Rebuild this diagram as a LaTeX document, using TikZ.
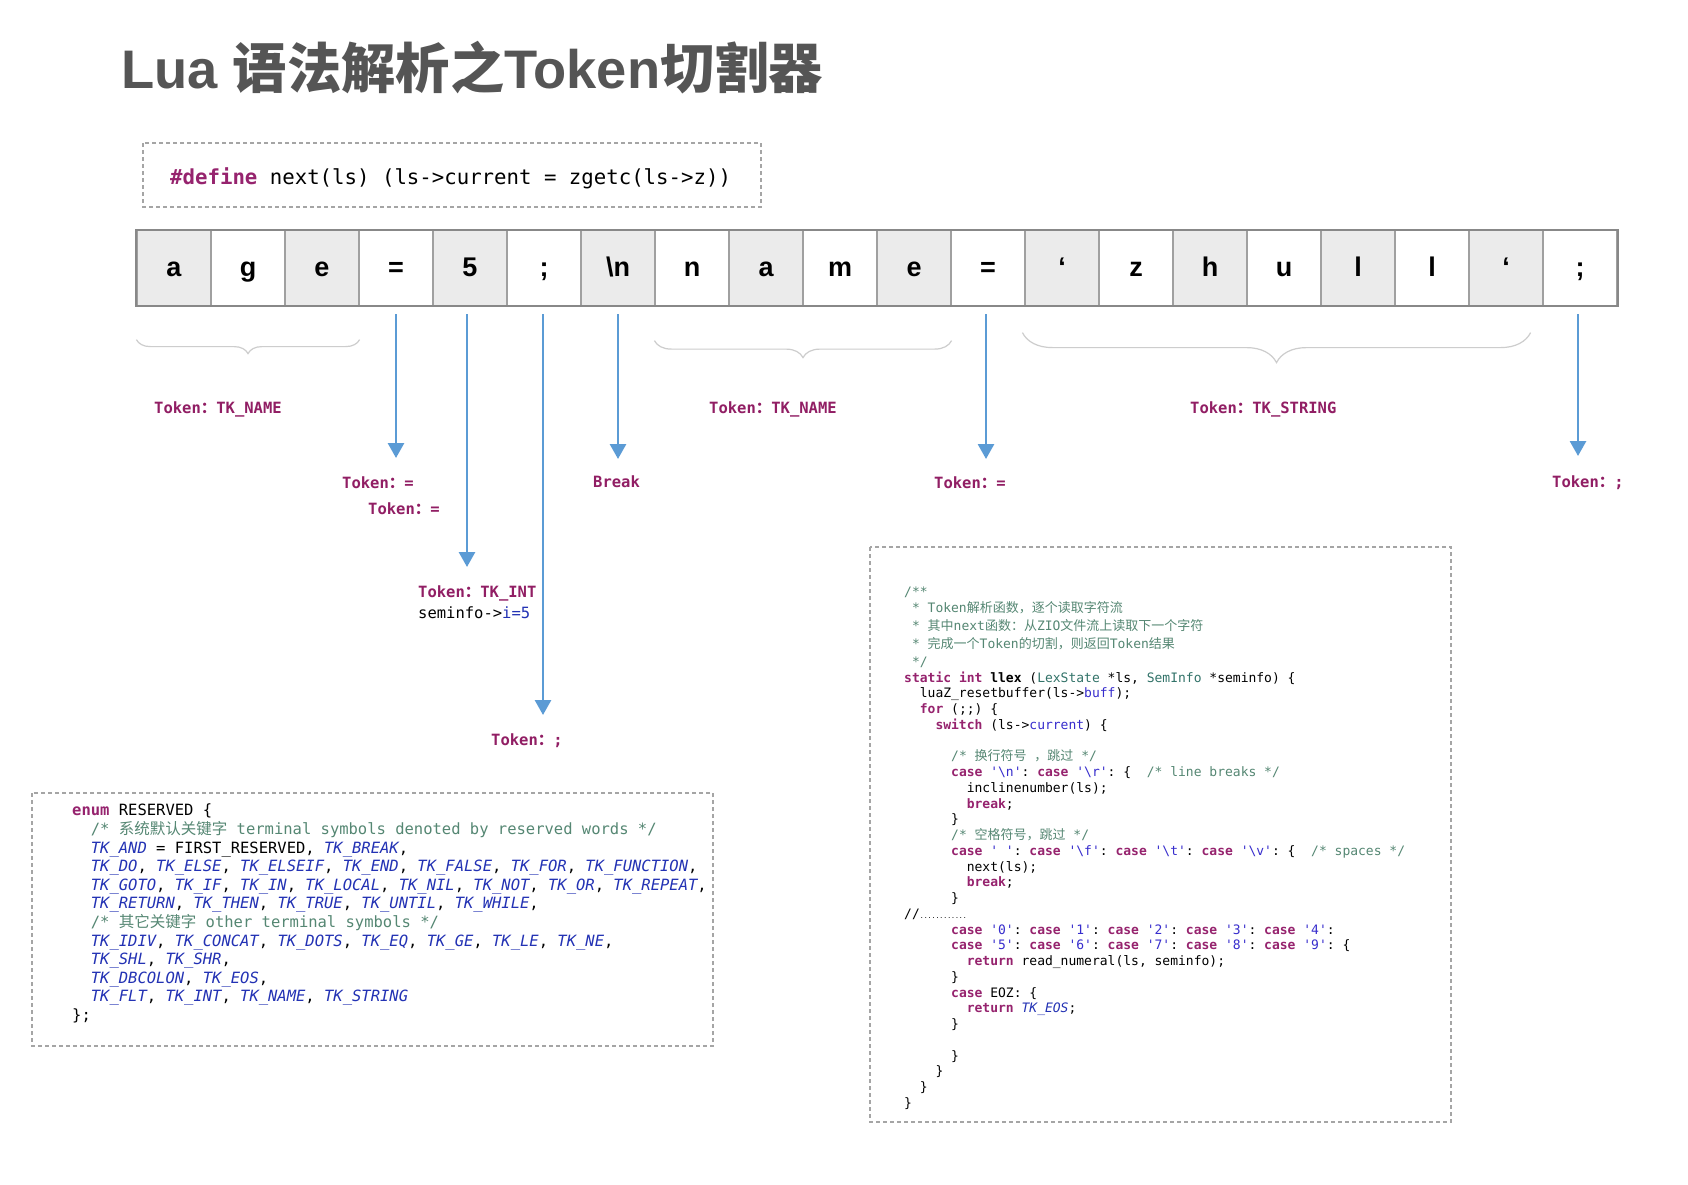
\documentclass[tikz,border=0pt]{standalone}
\usepackage{fontspec}
\usepackage{tikz}
\usetikzlibrary{arrows.meta}
\usetikzlibrary{decorations.pathreplacing}
\usetikzlibrary{positioning}
\setmainfont{Liberation Sans}
\setmonofont{DejaVu Sans Mono}
\newfontfamily\cjkfont{Noto Sans CJK SC}

\definecolor{kwred}{RGB}{150,35,110}
\definecolor{tokred}{RGB}{145,30,100}
\definecolor{idblue}{RGB}{35,50,180}
\definecolor{cmgreen}{RGB}{85,135,115}
\definecolor{tyteal}{RGB}{50,115,105}
\definecolor{chblue}{RGB}{55,45,205}
\definecolor{flowblue}{RGB}{91,155,213}
\definecolor{cellgray}{RGB}{235,235,235}
\definecolor{edgegray}{RGB}{160,160,160}
\definecolor{boxgray}{RGB}{165,165,165}
\definecolor{titlegray}{RGB}{85,85,85}
\definecolor{bracegray}{RGB}{205,205,205}

\newcommand\zh[1]{{\cjkfont #1}}
\newcommand\zhcolon{{\cjkfont ：}}
\newcommand\kw[1]{{\color{kwred}\bfseries #1}}
\newcommand\cm[1]{{\color{cmgreen}#1}}
\newcommand\tk[1]{{\color{idblue}\itshape TK\_#1}}
\newcommand\lit[1]{{\color{chblue}#1}}
\newcommand\ty[1]{{\color{tyteal}#1}}

\begin{document}
\begin{tikzpicture}[x=1pt,y=-1pt,
    cell/.style={draw=edgegray,line width=1.2pt,minimum width=74pt,minimum height=75pt,
      inner sep=0pt,text height=20pt,text depth=4pt,font=\fontsize{27}{30}\selectfont\bfseries},
    dashbox/.style={draw=boxgray,line width=1.2pt,dash pattern=on 4pt off 3pt},
    flow/.style={draw=flowblue,line width=2.8pt,-{Triangle[width=16pt,length=15pt]}},
    tokbrace/.style={draw=bracegray,line width=1.2pt,decorate,decoration={brace,mirror,amplitude=#1}},
    toklabel/.style={anchor=west,inner sep=0pt,text=tokred,font=\ttfamily\bfseries\fontsize{15.5}{18}\selectfont},
    code/.style={anchor=north west,inner sep=0pt,align=left}]
        \fill[white] (0,0) rectangle (1688,1184);
        \useasboundingbox (0,0) rectangle (1688,1184);

        \node[anchor=west,inner sep=0pt,text=titlegray] (title) at (121,68)
            {\fontsize{54.3}{60}\selectfont\bfseries Lua \zh{语法解析之}Token\zh{切割器}};

        \draw[dashbox] (143,143) rectangle (761,207);
        \node[anchor=west,inner sep=0pt,font=\ttfamily\fontsize{20.7}{24}\selectfont] (define) at (170,178)
            {\kw{\#define} next(ls) (ls->current = zgetc(ls->z))};

        \foreach \ch [count=\i] in {a,g,e,=,5,;,{\textbackslash n},n,a,m,e,=,‘,z,h,u,l,l,‘,;} {
            \ifodd\i\relax \def\cellfill{cellgray}\else \def\cellfill{white}\fi
            \node[cell,fill=\cellfill] (c\i) at ({100+74*\i},268) {\ch};
        }
        \draw[edgegray!85!black,line width=2pt] (c1.north west) rectangle (c20.south east);

        \draw[tokbrace=14pt] ([yshift=-33.5pt]c1.south west) -- ([yshift=-33.5pt]c3.south east);
        \draw[tokbrace=17pt] ([yshift=-34.5pt]c8.south west) -- ([yshift=-34.5pt]c11.south east);
        \draw[tokbrace=30pt] ([xshift=-2pt,yshift=-26.5pt]c13.south west) -- ([xshift=-13pt,yshift=-26.5pt]c19.south east);

        \node[toklabel] (name1) at (154,409) {Token\zhcolon TK\_NAME};
        \node[toklabel] (name2) at (709,409) {Token\zhcolon TK\_NAME};
        \node[toklabel] (strlab) at (1190,409) {Token\zhcolon TK\_STRING};
        \node[toklabel] (eqlab) at (342,483) {Token\zhcolon =};
        \node[toklabel] (eqlabb) at (368,509) {Token\zhcolon =};
        \node[toklabel] (intlab) at (418,593) {Token\zhcolon TK\_INT};
        \node[toklabel,anchor=north west,text=black,font=\ttfamily\fontsize{15.5}{18}\selectfont]
            (intinfo) at ([yshift=-6pt]intlab.south west) {seminfo->\textcolor{idblue}{i=5}};
        \node[toklabel] (semilab) at (491,741) {Token\zhcolon ;};
        \node[toklabel] (breaklab) at (593,482) {Break};
        \node[toklabel] (eqlabc) at (934,483) {Token\zhcolon =};
        \node[toklabel] (semilabb) at (1552,483) {Token\zhcolon ;};

        \coordinate (e4) at (396,458);
        \coordinate (e5) at (467,567);
        \coordinate (e6) at (543,715);
        \coordinate (e7) at (618,459);
        \coordinate (e12) at (986,459);
        \coordinate (e20) at (1578,456);
        \foreach \k in {4,5,6,7,12,20}
            \draw[flow] ([yshift=-8pt]c\k.south -| e\k) -- (e\k);

        \draw[dashbox] (32,793) rectangle (713,1046);
        \node[code,font=\ttfamily\fontsize{15.5}{18.6}\selectfont] (reserved) at (72,804) {%
            \kw{enum} RESERVED \{\\
            ~~\cm{/* \zh{系统默认关键字} terminal symbols denoted by reserved words */}\\
            ~~\tk{AND} = FIRST\_RESERVED, \tk{BREAK},\\
            ~~\tk{DO}, \tk{ELSE}, \tk{ELSEIF}, \tk{END}, \tk{FALSE}, \tk{FOR}, \tk{FUNCTION},\\
            ~~\tk{GOTO}, \tk{IF}, \tk{IN}, \tk{LOCAL}, \tk{NIL}, \tk{NOT}, \tk{OR}, \tk{REPEAT},\\
            ~~\tk{RETURN}, \tk{THEN}, \tk{TRUE}, \tk{UNTIL}, \tk{WHILE},\\
            ~~\cm{/* \zh{其它关键字} other terminal symbols */}\\
            ~~\tk{IDIV}, \tk{CONCAT}, \tk{DOTS}, \tk{EQ}, \tk{GE}, \tk{LE}, \tk{NE},\\
            ~~\tk{SHL}, \tk{SHR},\\
            ~~\tk{DBCOLON}, \tk{EOS},\\
            ~~\tk{FLT}, \tk{INT}, \tk{NAME}, \tk{STRING}\\
            \};};

        \draw[dashbox] (870,547) rectangle (1451,1122);
        \node[code,font=\ttfamily\fontsize{13}{15.75}\selectfont] (llex) at (904,587) {%
            \cm{/**}\\
            \cm{~* Token\zh{解析函数，逐个读取字符流}}\\[2.2pt]
            \cm{~* \zh{其中}next\zh{函数：从}ZIO\zh{文件流上读取下一个字符}}\\[2.2pt]
            \cm{~* \zh{完成一个}Token\zh{的切割，则返回}Token\zh{结果}}\\[2.2pt]
            \cm{~*/}\\
            \kw{static} \kw{int} \textbf{llex} (\ty{LexState} *ls, \ty{SemInfo} *seminfo) \{\\
            ~~luaZ\_resetbuffer(ls->\lit{buff});\\
            ~~\kw{for} (;;) \{\\
            ~~~~\kw{switch} (ls->\lit{current}) \{\\
            \mbox{}\\
            ~~~~~~\cm{/* \zh{换行符号} \zh{，跳过} */}\\
            ~~~~~~\kw{case} \lit{'\textbackslash n'}: \kw{case} \lit{'\textbackslash r'}: \{~~\cm{/* line breaks */}\\
            ~~~~~~~~inclinenumber(ls);\\
            ~~~~~~~~\kw{break};\\
            ~~~~~~\}\\
            ~~~~~~\cm{/* \zh{空格符号，跳过} */}\\
            ~~~~~~\kw{case} \lit{'~'}: \kw{case} \lit{'\textbackslash f'}: \kw{case} \lit{'\textbackslash t'}: \kw{case} \lit{'\textbackslash v'}: \{~~\cm{/* spaces */}\\
            ~~~~~~~~next(ls);\\
            ~~~~~~~~\kw{break};\\
            ~~~~~~\}\\
            //{\fontsize{6.5}{6.5}\selectfont ............}\\
            ~~~~~~\kw{case} \lit{'0'}: \kw{case} \lit{'1'}: \kw{case} \lit{'2'}: \kw{case} \lit{'3'}: \kw{case} \lit{'4'}:\\
            ~~~~~~\kw{case} \lit{'5'}: \kw{case} \lit{'6'}: \kw{case} \lit{'7'}: \kw{case} \lit{'8'}: \kw{case} \lit{'9'}: \{\\
            ~~~~~~~~\kw{return} read\_numeral(ls, seminfo);\\
            ~~~~~~\}\\
            ~~~~~~\kw{case} EOZ: \{\\
            ~~~~~~~~\kw{return} \tk{EOS};\\
            ~~~~~~\}\\
            \mbox{}\\
            ~~~~~~\}\\
            ~~~~\}\\
            ~~\}\\
            \}};
\end{tikzpicture}
\end{document}
